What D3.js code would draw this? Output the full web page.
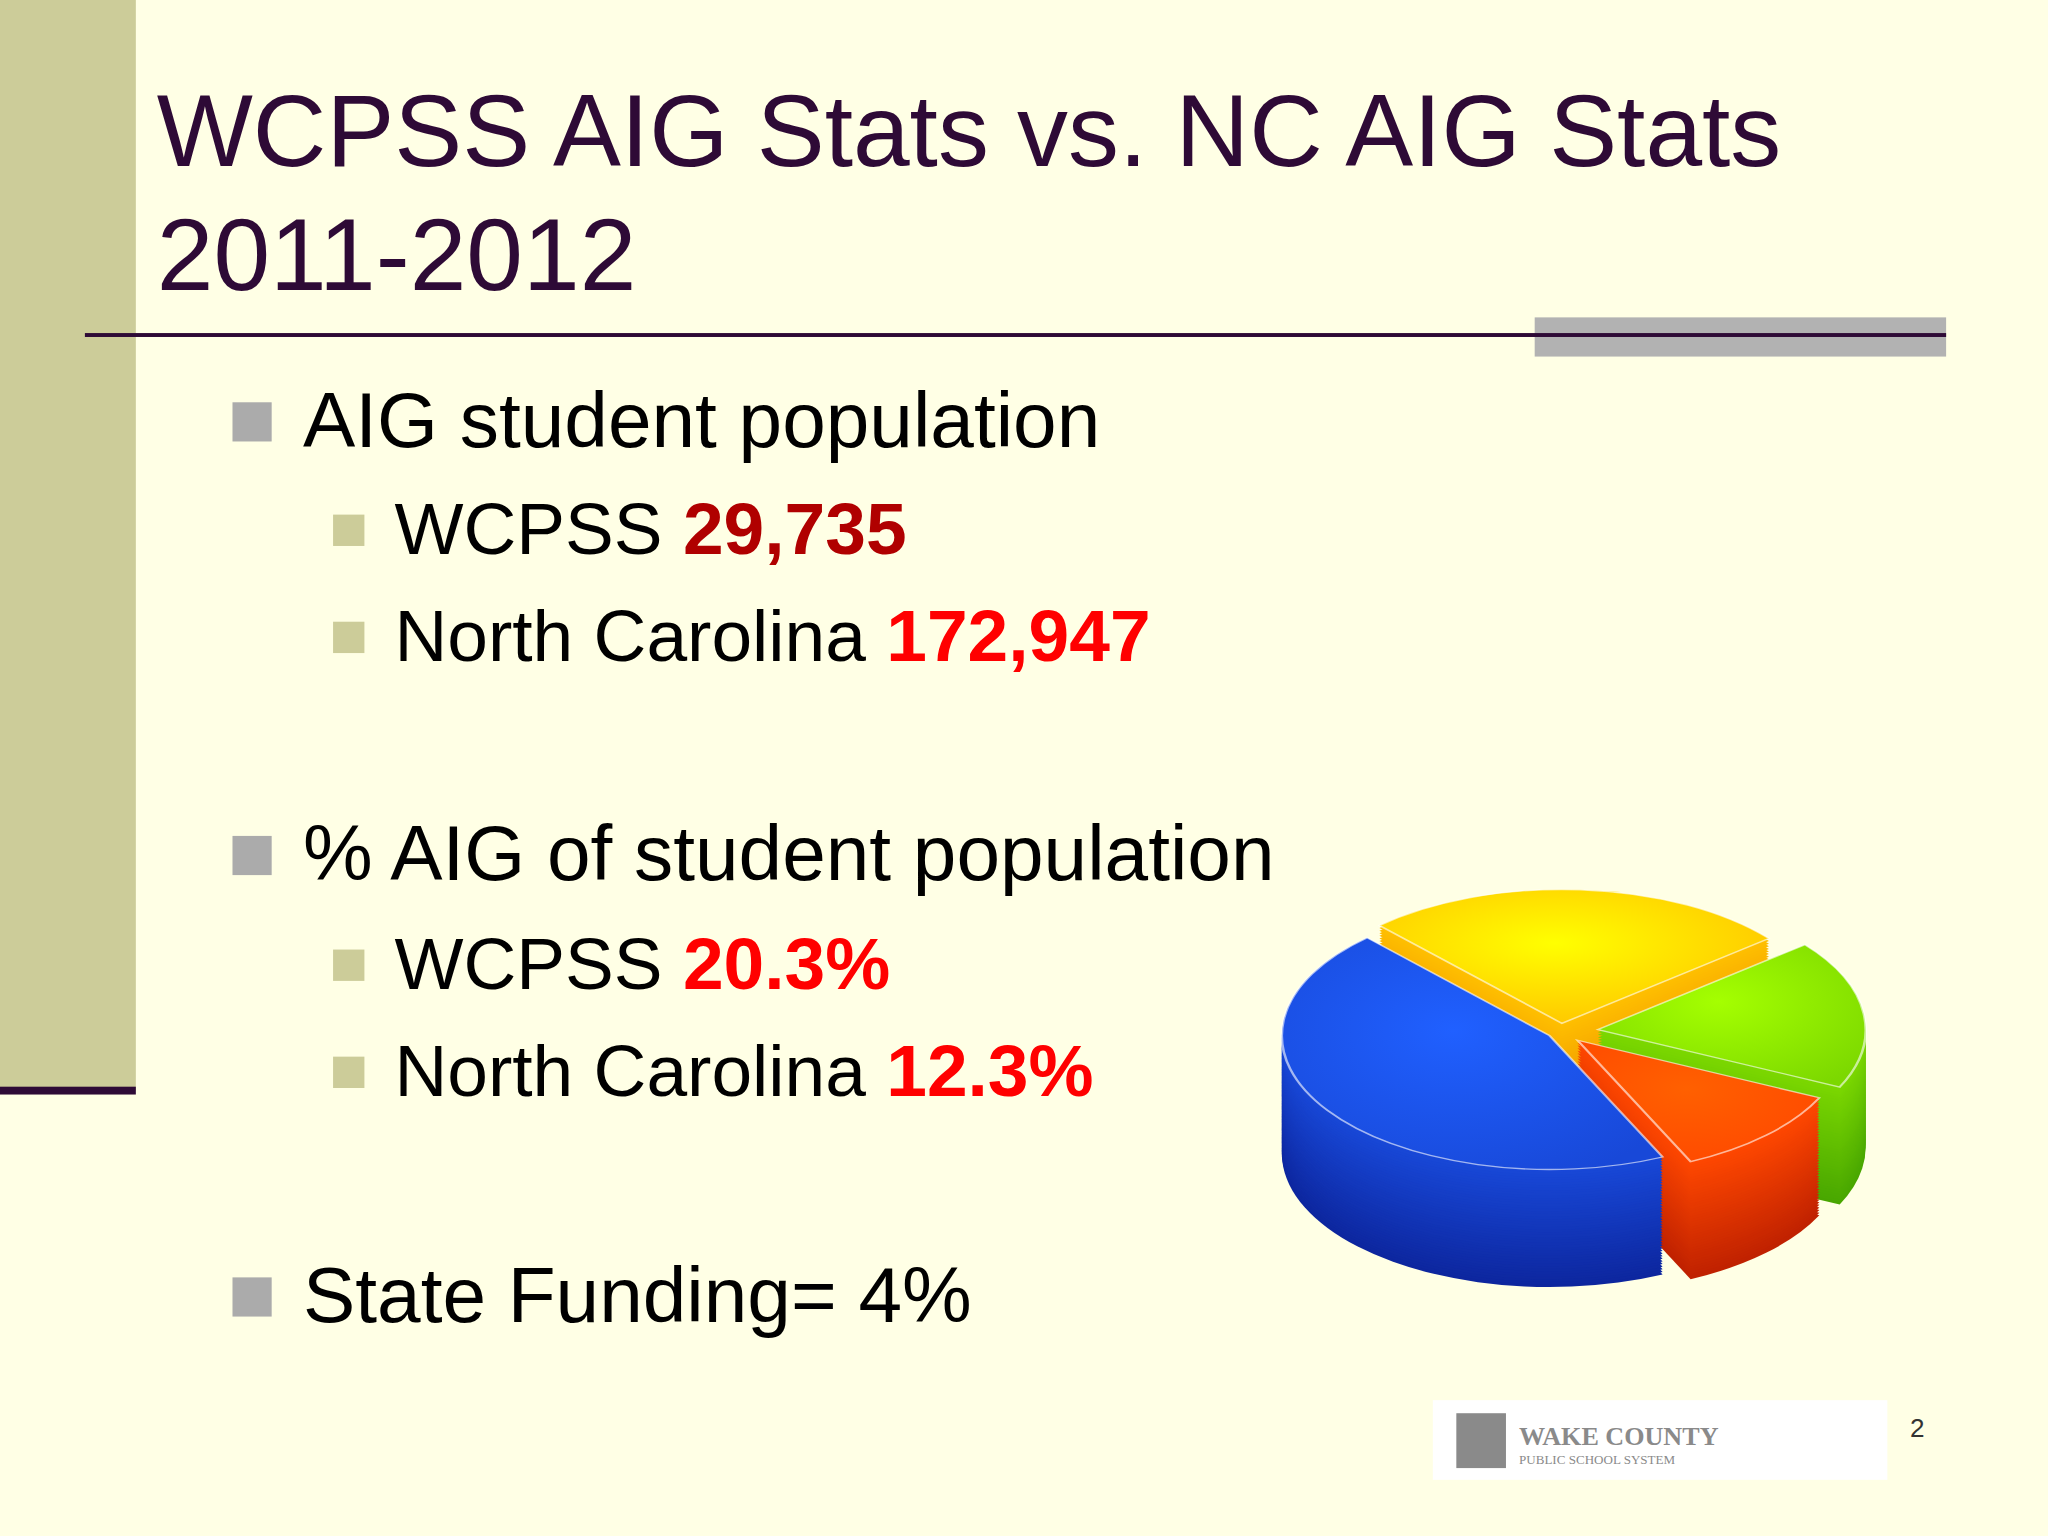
<!DOCTYPE html>
<html><head><meta charset="utf-8">
<script src="https://cdn.jsdelivr.net/npm/d3@7"></script>
<style>html,body{margin:0;padding:0;background:#FFFFE5;}svg{display:block}</style>
</head><body>
<script>
const titleLines = ["WCPSS AIG Stats vs. NC AIG Stats", "2011-2012"];
const bulletItems = [
  {level:1, text:"AIG student population", value:"", color:""},
  {level:2, text:"WCPSS ", value:"29,735", color:"#B00000"},
  {level:2, text:"North Carolina ", value:"172,947", color:"#FF0000"},
  {level:1, text:"% AIG of student population", value:"", color:""},
  {level:2, text:"WCPSS ", value:"20.3%", color:"#FF0000"},
  {level:2, text:"North Carolina ", value:"12.3%", color:"#FF0000"},
  {level:1, text:"State Funding= 4%", value:"", color:""}
];
const bulletRows = [342, 424, 506, 674, 757, 839, 1012];
const pieLabels = ["yellow","green","red","blue"];
const pieValues = [26, 18, 11, 45];
const pieColors = ["#FFC000","#7CD800","#FF4800","#1848D8"];
const pieDark = ["#E07000","#3C9A00","#B01800","#0A1E90"];
const pieExplode = [10, 22, 14, 8];

const W=1568,H=1176;
const svg=d3.select("body").append("svg").attr("width",2048).attr("height",1536).attr("viewBox",`0 0 ${W} ${H}`);
svg.append("rect").attr("width",W).attr("height",H).attr("fill","#FFFFE5");
svg.append("rect").attr("x",0).attr("y",0).attr("width",104).attr("height",835).attr("fill","#CCCC99");
svg.append("rect").attr("x",0).attr("y",832).attr("width",104).attr("height",6).attr("fill","#2E0A36");
svg.append("rect").attr("x",1175).attr("y",243).attr("width",315).attr("height",30).attr("fill","#B2B2B2");
svg.append("rect").attr("x",65).attr("y",255).attr("width",1425).attr("height",3).attr("fill","#2E0A36");
svg.selectAll("text.title").data(titleLines).join("text").attr("class","title")
  .attr("x",120).attr("y",(d,i)=>127+i*95).attr("font-family","Liberation Sans, Arial, sans-serif")
  .attr("font-size",78).attr("fill","#2E0A36").text(d=>d);

const g=svg.append("g").attr("font-family","Liberation Sans, Arial, sans-serif");
bulletItems.forEach((b,i)=>{
  const y=bulletRows[i];
  if(b.level===1){
    g.append("rect").attr("x",178).attr("y",y-34).attr("width",30).attr("height",30).attr("fill","#ABABAB");
    g.append("text").attr("x",232).attr("y",y).attr("font-size",60).attr("fill","#000").text(b.text);
  } else {
    g.append("rect").attr("x",255).attr("y",y-30).attr("width",24).attr("height",24).attr("fill","#CCCC99");
    const t=g.append("text").attr("x",302).attr("y",y).attr("font-size",56).attr("fill","#000");
    t.append("tspan").text(b.text);
    t.append("tspan").attr("font-weight","bold").attr("fill",b.color).text(b.value);
  }
});

// 3D pie
const cx=1195, cy=790, R=205, sy=0.5, depth=90;
const pie=d3.pie().sort(null).startAngle(-0.75).endAngle(-0.75+2*Math.PI)(pieValues);
const arc=d3.arc().innerRadius(0).outerRadius(R);
const defs=svg.append("defs");
pie.forEach((p,i)=>{
  const gr=defs.append("radialGradient").attr("id","g"+i).attr("cx","45%").attr("cy","40%").attr("r","70%");
  gr.append("stop").attr("offset","0%").attr("stop-color",d3.color(pieColors[i]).brighter(0.8));
  gr.append("stop").attr("offset","100%").attr("stop-color",pieColors[i]);
});
const pg=svg.append("g");
const off=p=>{const a=(p.startAngle+p.endAngle)/2;return [Math.sin(a)*pieExplode[p.index],-Math.cos(a)*pieExplode[p.index]];};
for(let z=depth;z>=0;z-=2){
  pie.forEach(p=>{
    const [ox,oy]=off(p);
    const top=z===0;
    pg.append("path").attr("d",arc(p))
      .attr("transform",`translate(${cx+ox*1.3},${cy+z+oy*sy*1.3}) scale(1,${sy})`)
      .attr("fill",top?`url(#g${p.index})`:d3.interpolateRgb(pieDark[p.index],pieColors[p.index])(1-z/depth*0.8))
      .attr("stroke",top?"#ffffff":"none").attr("stroke-opacity",0.6).attr("stroke-width",top?2:0);
  });
}

svg.append("text").attr("x",1468).attr("y",1100).attr("text-anchor","middle").attr("font-family","Liberation Sans, Arial, sans-serif").attr("font-size",20).attr("fill","#333").text("2");
svg.append("rect").attr("x",1097).attr("y",1072).attr("width",348).attr("height",61).attr("fill","#FFFFFF");
svg.append("rect").attr("x",1115).attr("y",1082).attr("width",38).attr("height",42).attr("fill","#8A8A8A");
svg.append("text").attr("x",1163).attr("y",1106).attr("font-family","Liberation Serif, serif").attr("font-weight","bold").attr("font-size",20).attr("fill","#8A8A8A").text("WAKE COUNTY");
svg.append("text").attr("x",1163).attr("y",1121).attr("font-family","Liberation Serif, serif").attr("font-size",10).attr("fill","#8A8A8A").text("PUBLIC SCHOOL SYSTEM");
</script>
</body></html>
